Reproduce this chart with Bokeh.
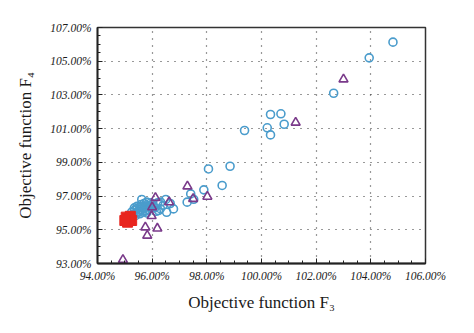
from bokeh.plotting import figure
from bokeh.models import FixedTicker, PrintfTickFormatter
from bokeh.embed import file_html
from bokeh.resources import INLINE

# Data (objective values in %)
circ_x = [104.81, 103.94, 102.64, 99.38, 100.21, 100.33, 100.33, 100.71, 100.83,
          98.06, 98.85, 98.56, 97.89, 97.41, 97.52, 97.28,
          95.62, 96.50, 96.31, 96.66, 96.78, 96.53, 96.23, 95.92, 95.80,
          95.30, 95.40, 95.50, 95.60, 95.70, 95.80, 95.90, 96.00, 95.45, 95.65,
          95.55, 95.75, 95.85, 96.10, 95.35, 95.60, 96.20, 95.95, 95.25, 96.40,
          95.35, 95.45, 95.55, 95.65, 95.75, 95.85, 95.95, 96.05, 95.40, 95.50,
          95.70, 95.80, 96.15, 96.30]
circ_y = [106.13, 105.20, 103.10, 100.89, 101.05, 100.63, 101.84, 101.88, 101.26,
          98.61, 98.77, 97.63, 97.37, 97.13, 96.81, 96.64,
          96.80, 96.80, 96.64, 96.56, 96.24, 96.04, 96.14, 96.34, 96.64,
          95.90, 96.00, 96.10, 96.20, 96.30, 96.35, 96.45, 96.50, 96.25, 96.40,
          95.95, 96.15, 96.20, 96.30, 96.15, 96.50, 96.60, 96.60, 96.05, 96.45,
          96.30, 96.40, 96.35, 96.05, 96.10, 96.40, 96.30, 96.35, 95.85, 96.05,
          96.55, 96.00, 96.10, 96.25]

tri_x = [103.00, 101.25, 97.29, 98.02, 97.50, 96.12, 96.62, 96.00, 95.98,
         95.75, 96.19, 95.82, 94.93]
tri_y = [103.93, 101.36, 97.58, 96.97, 96.84, 96.90, 96.64, 96.34, 95.82,
         95.15, 95.08, 94.66, 93.22]

sq_x = [95.05, 95.15, 95.10, 95.25, 95.20, 95.00]
sq_y = [95.75, 95.60, 95.45, 95.55, 95.80, 95.55]

x_ticks = [94, 96, 98, 100, 102, 104, 106]
y_ticks = [93, 95, 97, 99, 101, 103, 105, 107]

p = figure(width=474, height=333, x_range=(94, 106), y_range=(93, 107),
           output_backend="svg", toolbar_location=None,
           min_border_left=97, min_border_right=49,
           min_border_top=27, min_border_bottom=70)

p.scatter(circ_x, circ_y, marker="circle", size=8, fill_color=None,
          line_color="#4a9ccc", line_width=1.6)
p.scatter(tri_x, tri_y, marker="triangle", size=9, fill_color=None,
          line_color="#7a3a8a", line_width=1.6)
p.scatter(sq_x, sq_y, marker="square", size=10, fill_color="#e8261f",
          line_color="#e8261f")

minor_x = [94 + 0.5 * i for i in range(25)]
minor_y = [93 + 0.5 * i for i in range(29)]
p.xaxis.ticker = FixedTicker(ticks=x_ticks, minor_ticks=minor_x)
p.yaxis.ticker = FixedTicker(ticks=y_ticks, minor_ticks=minor_y)
p.xaxis.formatter = PrintfTickFormatter(format="%.2f%%")
p.yaxis.formatter = PrintfTickFormatter(format="%.2f%%")

for ax in (p.xaxis, p.yaxis):
    ax.major_tick_in = 5
    ax.major_tick_out = 0
    ax.minor_tick_in = 3
    ax.minor_tick_out = 0
    ax.axis_line_color = "#222222"
    ax.axis_line_width = 1.8
    ax.major_tick_line_color = "#222222"
    ax.minor_tick_line_color = "#222222"
    ax.major_label_text_font = "Liberation Serif"
    ax.major_label_text_font_style = "italic"
    ax.major_label_text_font_size = "11.5px"
    ax.major_label_text_color = "#1a1a1a"
    ax.axis_label_text_font = "Liberation Serif"
    ax.axis_label_text_font_style = "normal"
    ax.axis_label_text_font_size = "17px"
    ax.axis_label_text_color = "#1a1a1a"

p.xaxis.axis_label = "Objective function F\u2083"
p.yaxis.axis_label = "Objective function F\u2084"
p.xaxis.major_label_standoff = 6
p.yaxis.major_label_standoff = 6
p.xaxis.axis_label_standoff = 8
p.yaxis.axis_label_standoff = 12

p.grid.grid_line_color = "#333333"
p.grid.grid_line_dash = "1 6"
p.grid.grid_line_width = 1.2

p.outline_line_color = "#333333"
p.outline_line_width = 1.5
p.background_fill_color = "white"
p.border_fill_color = "white"

open("out.html", "w").write(file_html(p, INLINE))
